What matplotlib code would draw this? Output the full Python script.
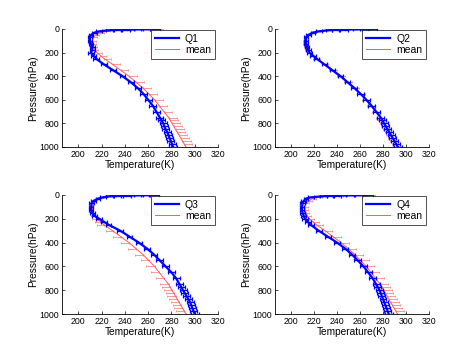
import matplotlib
matplotlib.use("Agg")
import matplotlib.pyplot as plt
from matplotlib.lines import Line2D
import numpy as np

plt.rcParams['font.family'] = ['Liberation Sans', 'DejaVu Sans']

levels = [1, 2, 3, 5, 7, 10, 20, 30, 50, 70, 100, 125, 150, 175, 200, 225,
          250, 300, 350, 400, 450, 500, 550, 600, 650, 700, 750, 775, 800,
          825, 850, 875, 900, 925, 950, 975, 1000]

mean_T = [268, 260, 254, 245, 238, 232, 224, 219, 215, 213, 212, 212, 213,
          214, 216, 219, 222, 229.5, 236.5, 243.5, 249.5, 255.5, 260.5, 265.5,
          269.5, 273.5, 277.5, 279, 280.5, 282, 283.5, 285, 286.5, 288, 289.5,
          291, 292.5]

Q1_T = [266, 258, 252, 241, 234, 227, 218, 214, 211, 210, 210, 211, 212,
        212, 211, 213, 215, 222, 230, 238, 245, 251, 256, 260, 264, 267, 270,
        271.5, 273, 274, 275, 276.5, 277.5, 278.5, 279.5, 280.5, 281.5]

Q2_T = [271, 264, 258, 246, 239, 233, 224, 219, 215, 213, 213, 213, 214,
        215, 216, 219, 222, 229, 236, 243, 249, 255, 260.5, 265.5, 270, 274,
        278, 279.5, 281, 282.5, 284, 285.5, 287, 288.5, 290, 291.5, 293]

Q3_T = [265, 258, 252, 242, 234, 227, 221, 217, 213, 211.5, 211, 211, 212,
        214, 218, 222, 226, 236, 244, 252, 259, 265, 270, 275, 280, 284, 287,
        288.5, 290, 291.5, 293, 294.5, 296, 297, 298, 299, 300]

Q4_T = [267, 259, 252, 240, 234, 228, 217, 213, 211, 210, 209.5, 209.5, 210,
        211, 212, 214.5, 217, 224, 232, 240, 247, 253, 258, 263, 267, 271,
        274, 275.5, 277, 278, 279, 280, 281, 282, 283, 284, 285]

Q_err = [4, 4, 4, 3.5, 3, 3, 2.5, 2, 2, 2, 2, 2, 2, 2, 2.5, 2.5, 2.5, 2.5,
         2.5, 2.5, 2.5, 2.5, 3, 3, 3, 3, 3, 3, 3, 3, 3, 3, 3, 3, 3, 3, 3.5]

mean_err = [5, 5, 5, 4, 4, 4, 3, 3, 3, 3, 3, 3, 3, 3, 4, 5, 6, 6, 6.5, 7, 7,
            7, 7, 7, 7, 7, 7, 7, 7, 7, 7, 7, 7, 7, 7, 7, 7]

names = ['Q1', 'Q2', 'Q3', 'Q4']
series = [Q1_T, Q2_T, Q3_T, Q4_T]
x_ticks = [200, 220, 240, 260, 280, 300, 320]
y_ticks = [0, 200, 400, 600, 800, 1000]

# side on which the mean error bars are drawn (+1 right, -1 left, 0 both)
mean_side = [1, 0, -1, 1]

fig = plt.figure(figsize=(4.74, 3.53), dpi=100)
W, H = 474.0, 353.0
boxes = [(62, 29, 156, 118), (275, 29, 154, 118),
         (62, 195, 156, 119), (275, 195, 154, 119)]

for i, (name, qT) in enumerate(zip(names, series)):
    x0, y0, w, h = boxes[i]
    ax = fig.add_axes([x0 / W, 1 - (y0 + h) / H, w / W, h / H])
    p = np.array(levels, dtype=float)
    m = np.array(mean_T, dtype=float)
    me = np.array(mean_err, dtype=float)
    side = mean_side[i]
    if side > 0:
        xerr = [np.zeros_like(me), me]
    elif side < 0:
        xerr = [me, np.zeros_like(me)]
    else:
        xerr = [me * 0.5, me * 0.5]
    ax.errorbar(m, p, xerr=xerr, color='#ff5a5a', lw=0.7, elinewidth=0.5,
                capsize=1.0, capthick=0.5, ecolor='#ff7070', zorder=2)
    ax.errorbar(np.array(qT), p, xerr=np.array(Q_err), color='#0000ff', lw=1.6,
                elinewidth=0.9, capsize=1.4, capthick=0.9, zorder=3)

    ax.set_xlim(186, 320)
    ax.set_ylim(1000, 0)
    ax.set_xticks(x_ticks)
    ax.set_yticks(y_ticks)
    ax.tick_params(direction='in', length=2.5, width=0.5, labelsize=6.3, pad=2)
    for s in ['top', 'right']:
        ax.spines[s].set_visible(False)
    for s in ['left', 'bottom']:
        ax.spines[s].set_linewidth(0.6)
    ax.set_xlabel('Temperature(K)', fontsize=7.3, labelpad=1)
    ax.set_ylabel('Pressure(hPa)', fontsize=7.3, labelpad=1)

    handles = [Line2D([], [], color='#0000ff', lw=1.6),
               Line2D([], [], color='#ff5a5a', lw=0.7)]
    leg = ax.legend(handles, [name, 'mean'], loc='upper right', fontsize=7.5,
                    frameon=True, fancybox=False, edgecolor='black',
                    borderpad=0.35, labelspacing=0.12, handlelength=2.3,
                    handletextpad=0.6, borderaxespad=0.1,
                    bbox_to_anchor=(0.985, 1.0))
    leg.get_frame().set_linewidth(0.6)

fig.savefig('out.png', dpi=100)
